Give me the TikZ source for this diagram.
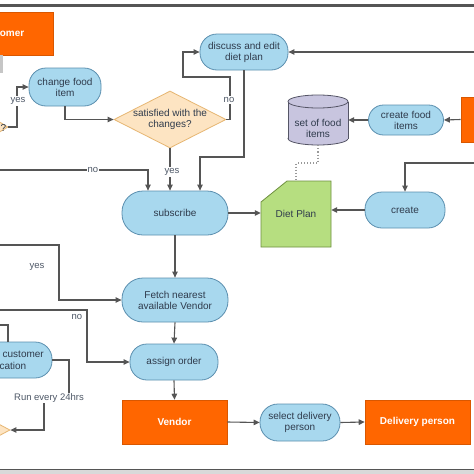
\documentclass[tikz,border=0pt]{standalone}
\usepackage{fontspec}
\setmainfont{Liberation Sans}
\usetikzlibrary{arrows.meta,shapes.geometric}
\definecolor{bfill}{HTML}{A8D8EE}
\definecolor{bdraw}{HTML}{5B8FAF}
\definecolor{orng}{HTML}{FF6600}
\definecolor{pfill}{HTML}{FDE4C2}
\definecolor{pdraw}{HTML}{E6B672}
\definecolor{gfill}{HTML}{B6DE80}
\definecolor{gdraw}{HTML}{6E8F3F}
\definecolor{lfill}{HTML}{C8C5DF}
\definecolor{ldraw}{HTML}{555566}
\definecolor{txt}{HTML}{2F3B4C}
\definecolor{wirec}{HTML}{555555}
\begin{document}
\begin{tikzpicture}[x=1pt,y=-1pt,
 font=\fontsize{10}{11}\selectfont,
 proc/.style={draw=bdraw, fill=bfill, line width=0.8pt, rounded corners=17pt, text=txt, align=center, inner sep=0pt},
 actor/.style={fill=orng, draw=orng!85!black, line width=0.6pt, text=white, font=\fontsize{10}{11}\selectfont\bfseries, inner sep=0pt},
 dec/.style={diamond, draw=pdraw, fill=pfill, line width=0.8pt, inner sep=0pt},
 wire/.style={draw=wirec, line width=1.1pt},
 arr/.style={wire, -{Triangle[length=6pt,width=5.5pt]}},
 lab/.style={fill=white, inner sep=1pt, text=txt!85, font=\fontsize{9.5}{11}\selectfont},
 plain/.style={text=txt, inner sep=0pt, align=center}
]
\useasboundingbox (0,0) rectangle (474,474);
\begin{scope}
\clip (0,0) rectangle (474,474);
\fill[white] (0,0) rectangle (474,474);

% frame
\draw[line width=3pt, draw=wirec] (-5,5) -- (480,5);
\fill[gray!30] (0,469) rectangle (474,480);
\draw[line width=1.2pt, draw=wirec] (-5,469.5) -- (480,469.5);

% actors
\node[actor, minimum width=113pt, minimum height=43pt] (cust) at (-3.5,33.5) {};
\node[plain, text=white, font=\fontsize{10}{11}\selectfont\bfseries, anchor=east] (custtxt) at (24.5,33.5) {omer};
\draw[line width=2.5pt, draw=gray!45] (1.5,55) -- (1.5,73);
\node[actor, minimum width=60pt, minimum height=45pt] (orR) at (491,119.5) {};
\node[actor, minimum width=105pt, minimum height=44pt] (vendor) at (174.5,422) {Vendor};
\node[actor, minimum width=105pt, minimum height=44pt] (delivery) at (417.5,422) {Delivery person};

% processes
\node[proc, minimum width=72pt, minimum height=38pt] (change) at (65,87) {change food\\item};
\node[proc, minimum width=88pt, minimum height=36pt] (discuss) at (244,52) {discuss and edit\\diet plan};
\node[proc, rounded corners=21pt, minimum width=106pt, minimum height=44pt] (subscribe) at (175,213) {subscribe};
\node[proc, rounded corners=21pt, minimum width=106pt, minimum height=44pt] (fetch) at (175,300) {Fetch nearest\\available Vendor};
\node[proc, minimum width=88pt, minimum height=36pt] (assign) at (174,362) {assign order};
\node[proc, minimum width=80pt, minimum height=37pt, rounded corners=18pt] (select) at (300,422.5) {select delivery\\person};
\node[proc, minimum width=80pt, minimum height=36pt] (create) at (405,210) {create};
\node[proc, minimum width=75pt, minimum height=30pt, rounded corners=15pt] (cfood) at (406,120) {create food\\items};
\node[proc, minimum width=144pt, minimum height=36pt] (custloc) at (-20,360) {};
\node[plain, anchor=east] (custloc1) at (44,354) {customer};
\node[plain, anchor=east] (custloc2) at (26.5,366) {cation};

% decisions
\node[dec, minimum width=112pt, minimum height=57pt] (sat) at (170,119.5) {};
\node[plain] (sattxt) at (170,119) {satisfied with the\\changes?};
\node[dec, minimum width=60pt, minimum height=36pt] (tl) at (-22,127) {};
\node[plain, anchor=east] (tltxt) at (6.5,128) {?};
\node[dec, minimum width=56pt, minimum height=30pt] (bl) at (-18,430) {};

% cylinder: set of food items
\draw[draw=ldraw, fill=lfill, line width=0.8pt] (318,138.5) ellipse [x radius=30pt, y radius=6.5pt];
\fill[lfill] (288,101.5) rectangle (348,138.5);
\draw[draw=ldraw, line width=0.8pt] (288,101.5) -- (288,138.5) (348,101.5) -- (348,138.5);
\draw[draw=ldraw, fill=lfill, line width=0.8pt] (318,101.5) ellipse [x radius=30pt, y radius=6.5pt];
\node[minimum width=60pt, minimum height=50pt, inner sep=0pt] (cyl) at (318,120) {};
\node[plain] (cyltxt) at (318,128) {set of food\\items};

% diet plan document
\draw[draw=gdraw, fill=gfill, line width=0.8pt] (261,202) -- (287,181) -- (331,181) -- (331,247) -- (261,247) -- cycle;
\node[minimum width=70pt, minimum height=66pt, inner sep=0pt, text=txt] (diet) at (296,214) {Diet Plan};

% free ends
\coordinate (inR1) at (476,52);
\coordinate (inR2) at (476,163);
\coordinate (inL1) at (-2,170);
\coordinate (inL2) at (-2,245);
\coordinate (inL3) at (-2,310);
\coordinate (inL4) at (-2,325);

% connectors
\draw[arr] (tl.east) -- (17,127) |- (change.west);
\node[lab] (l1) at (18,101) {yes};
\draw[arr] (change.south) |- (sat.west);
\draw[arr] (sat.east) -- (230,119.5) -- (230,77) -- (183,77) |- (discuss.west);
\node[lab] (l2) at (229,100) {no};
\draw[arr] (inR1) -- (discuss.east);
\draw[arr] (discuss.south) -- (244,157) -| ([xshift=25pt]subscribe.north);
\draw[arr] (sat.south) -- (sat.south |- subscribe.north);
\node[lab] (l3) at (172,172) {yes};
\draw[arr] (inL1) -| ([xshift=-27pt]subscribe.north);
\node[lab] (l4) at (93,170) {no};
\draw[arr] (subscribe.east) -- (subscribe.east -| diet.west);
\draw[arr] (create.west) -- (create.west -| diet.east);
\draw[arr] (inR2) -| (create.north);
\draw[draw=gray!80, line width=1.1pt, dotted] (cyl.south) -- (318,163) -| (diet.north);
\draw[arr] (cfood.west) -- (cfood.west -| cyl.east);
\draw[arr] (orR.west) -- (cfood.east);
\draw[arr] (subscribe.south) -- (fetch.north);
\draw[arr] (inL2) -- (59,245) |- (fetch.west);
\node[plain, text=txt!85, font=\fontsize{9.5}{11}\selectfont] (l5) at (37,267) {yes};
\draw[arr] (inL3) -- (87,310) |- (assign.west);
\node[plain, text=txt!85, font=\fontsize{9.5}{11}\selectfont] (l6) at (77,317) {no};
\draw[arr] (fetch.south) -- (assign.north);
\draw[arr] (assign.south) -- (vendor.north);
\draw[arr] (vendor.east) -- (select.west);
\draw[arr] (select.east) -- (delivery.west);
\draw[wire] (inL4) -- (8,325) -- (8,342);
\draw[arr] (custloc.east) -- (69,360) -- (69,398) -- (44,398) -- (44,430) -- (bl.east);
\node[lab] (l7) at (49,398) {Run every 24hrs};
\end{scope}
\end{tikzpicture}
\end{document}
